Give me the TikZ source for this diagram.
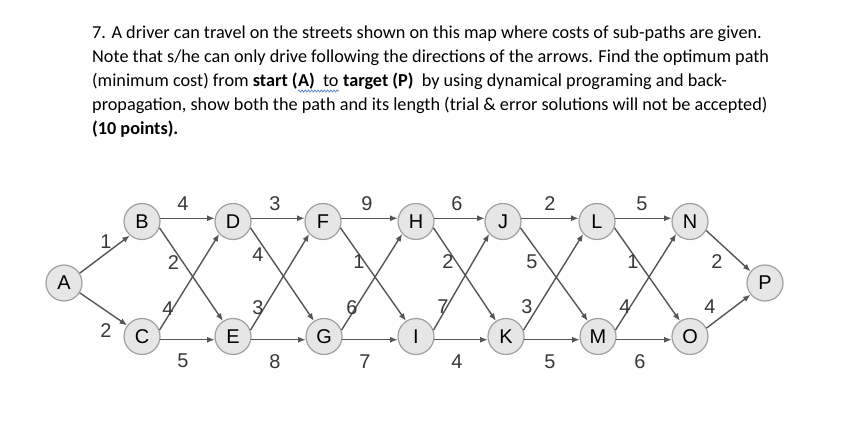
\documentclass[tikz,border=0pt]{standalone}
\usepackage{fontspec}
\setmainfont{Carlito}
\newfontfamily\arialf{Liberation Sans}
\usetikzlibrary{arrows.meta,decorations.pathmorphing}
\definecolor{nodefill}{HTML}{E6E6E6}
\definecolor{nodeedge}{HTML}{A0A0A0}
\definecolor{edgecol}{HTML}{555555}
\definecolor{lblcol}{HTML}{383838}
\definecolor{squig}{HTML}{4472C4}
\begin{document}
\begin{tikzpicture}[x=1bp,y=-1bp,
 city/.style={circle,draw=nodeedge,fill=nodefill,line width=1.2bp,minimum size=36bp,inner sep=0pt,font=\arialf\fontsize{20}{20}\selectfont},
 road/.style={draw=edgecol,line width=1.4bp,-{Latex[length=7.5bp,width=6bp]}},
 cost/.style={font=\arialf\fontsize{20}{20}\selectfont,text=lblcol,inner sep=0pt},
 txt/.style={anchor=base west,inner sep=0pt,font=\fontsize{18.3}{22}\selectfont}]
\useasboundingbox[fill=white] (0,0) rectangle (868,448);
% question text
\node[txt] (t1) at (92,39) {7. A driver can travel on the streets shown on this map where costs of sub-paths are given.};
\node[txt] (t2) at (92,63) {Note that s/he can only drive following the directions of the arrows. Find the optimum path};
\node[txt] (t3a) at (92,87) {(minimum cost) from \textbf{start (}};
\node[txt] (t3b) at (t3a.base east) {\textbf{A)}\ \ to};
\node[txt] (t3c) at (t3b.base east) {\ \textbf{target (P)}\ \ by using dynamical programing and back-};
\node[txt] (t4) at (92,111) {propagation, show both the path and its length (trial \& error solutions will not be accepted)};
\node[txt] (t5) at (92,135) {\textbf{(10 points).}};
\draw[squig,line width=0.6bp,decorate,decoration={snake,amplitude=1.1bp,segment length=3.2bp}]
  ([yshift=-4bp]t3b.base west) -- ([yshift=-4bp]t3b.base east);
% nodes
\node[city] (A) at (64,283) {A};
\node[city] (B) at (142,221.5) {B};
\node[city] (C) at (142,336.5) {C};
\node[city] (D) at (233,221.5) {D};
\node[city] (E) at (233,336.5) {E};
\node[city] (F) at (323,221.5) {F};
\node[city] (G) at (324,336.5) {G};
\node[city] (H) at (416,221.5) {H};
\node[city] (I) at (416,336.5) {I};
\node[city] (J) at (503,221.5) {J};
\node[city] (K) at (506,336.5) {K};
\node[city] (L) at (597,221.5) {L};
\node[city] (M) at (598,336.5) {M};
\node[city] (N) at (690,221.5) {N};
\node[city] (O) at (690,336.5) {O};
\node[city] (P) at (765,283) {P};
% roads
\draw[road] (A.32) -- (B.229);
\draw[road] (A.-32) -- (C.143);
\foreach \u/\v in {B/D,D/F,F/H,H/J,J/L,L/N}
  \draw[road] (\u.10) -- (\v.170);
\foreach \u/\v in {C/E,E/G,G/I,I/K,K/M,M/O}
  \draw[road] (\u.-10) -- (\v.190);
\foreach \u/\v in {B/E,D/G,F/I,H/K,J/M,L/O}
  \draw[road] (\u.-20) -- (\v.123);
\foreach \u/\v in {C/D,E/F,G/H,I/J,K/L,M/N}
  \draw[road] (\u.20) -- (\v.222);
\draw[road] (N.-29) -- (P.141);
\draw[road] (O.27) -- (P.219);
% costs
\node[cost] (cAB) at (106,242) {1};
\node[cost] (cAC) at (106,331) {2};
\node[cost] (cBD) at (183,204) {4};
\node[cost] (cBE) at (173.5,263) {2};
\node[cost] (cCD) at (168,309) {4};
\node[cost] (cCE) at (183,361) {5};
\node[cost] (cDF) at (275,204) {3};
\node[cost] (cDG) at (258,255) {4};
\node[cost] (cEF) at (258,308) {3};
\node[cost] (cEG) at (275,362) {8};
\node[cost] (cFH) at (367,204) {9};
\node[cost] (cFI) at (359,262) {1};
\node[cost] (cGH) at (352,308) {6};
\node[cost] (cGI) at (365,362) {7};
\node[cost] (cHJ) at (457,204) {6};
\node[cost] (cHK) at (448,262) {2};
\node[cost] (cIJ) at (443,307) {7};
\node[cost] (cIK) at (457,362) {4};
\node[cost] (cJL) at (550,204) {2};
\node[cost] (cJM) at (532,262) {5};
\node[cost] (cKL) at (527,307) {3};
\node[cost] (cKM) at (550,362) {5};
\node[cost] (cLN) at (642,204) {5};
\node[cost] (cLO) at (633,262) {1};
\node[cost] (cMN) at (625,307) {4};
\node[cost] (cMO) at (640,362) {6};
\node[cost] (cNP) at (717,262) {2};
\node[cost] (cOP) at (710,307) {4};
\end{tikzpicture}
\end{document}
